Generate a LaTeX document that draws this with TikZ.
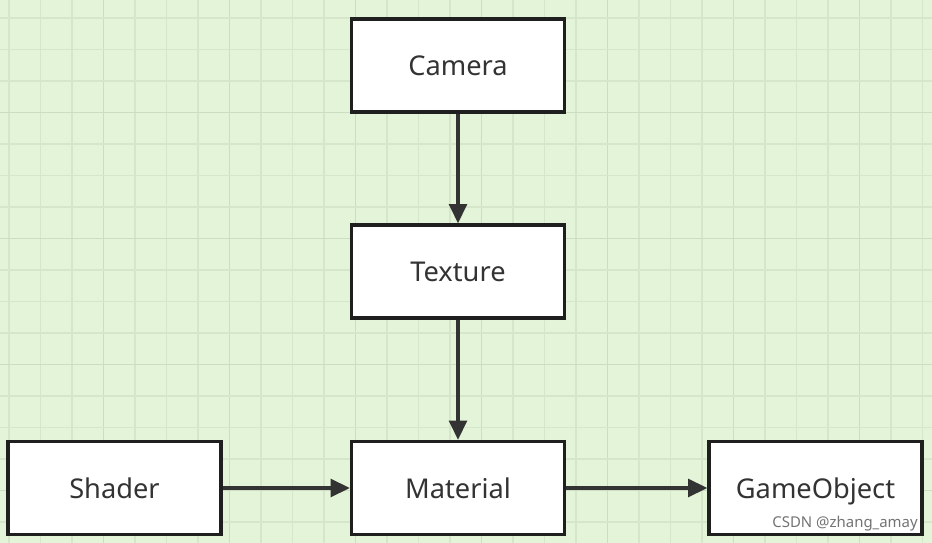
\documentclass[tikz,border=0pt]{standalone}
\usepackage{fontspec}
\setmainfont{Noto Sans}
\usetikzlibrary{arrows.meta}
\definecolor{bg}{HTML}{E4F4D8}
\definecolor{gridc}{HTML}{D5E6CB}
\definecolor{gridm}{HTML}{CCDDC2}
\tikzset{
  box/.style={draw=black!88, line width=1.8pt, fill=white, minimum width=4.26cm, minimum height=1.86cm, inner sep=0pt, text height=14.6pt, text depth=3pt, font=\fontsize{15.5}{18}\selectfont, text=black!80},
  conn/.style={draw=black!80, line width=2.2pt, -{Triangle[length=11pt,width=10pt]}}
}
\begin{document}
\begin{tikzpicture}[x=0.02cm,y=-0.02cm]
\fill[bg] (0,0) rectangle (932,543);
\useasboundingbox (0,0) rectangle (932,543);
\foreach \k in {0,...,29} {
  \pgfmathsetmacro\xx{9+31.5*\k}
  \pgfmathtruncatemacro\m{mod(\k,4)}
  \ifnum\m=3 \draw[gridm, line width=0.9pt] (\xx,0) -- (\xx,543); \else \draw[gridc, line width=0.6pt] (\xx,0) -- (\xx,543); \fi
}
\foreach \k in {0,...,16} {
  \pgfmathsetmacro\yy{18+31.5*\k}
  \pgfmathtruncatemacro\m{mod(\k,4)}
  \ifnum\m=3 \draw[gridm, line width=0.9pt] (0,\yy) -- (932,\yy); \else \draw[gridc, line width=0.6pt] (0,\yy) -- (932,\yy); \fi
}
\node[box] (cam) at (458,65.5) {Camera};
\node[box] (tex) at (458,271.5) {Texture};
\node[box] (mat) at (458,488) {Material};
\node[box] (sha) at (114.5,488) {Shader};
\node[box] (go) at (815.5,488) {GameObject};
\draw[conn] (cam) -- (tex);
\draw[conn] (tex) -- (mat);
\draw[conn] (sha) -- (mat);
\draw[conn] (mat) -- (go);
\node[anchor=east, text=black!55, font=\fontsize{8.5}{10}\selectfont, inner sep=0pt] (wm) at (918,524) {CSDN @zhang\_amay};
\end{tikzpicture}
\end{document}
